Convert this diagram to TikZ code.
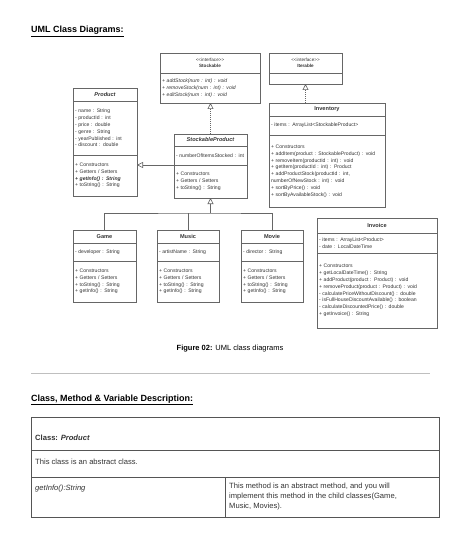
\documentclass[tikz,border=0pt]{standalone}
\usepackage{fontspec}
\setmainfont{Liberation Sans}
\usetikzlibrary{positioning,arrows.meta}
\definecolor{umlline}{HTML}{666666}
\definecolor{umltext}{HTML}{333333}
\definecolor{tableline}{HTML}{555555}

\begin{document}
\begin{tikzpicture}[x=1pt,y=-1pt,
  cls/.style={draw=umlline,line width=0.6pt,anchor=north west,inner sep=0pt,outer sep=0pt,text=umltext},
  head/.style={cls,align=center,font=\fontsize{5.6}{6.5}\selectfont\bfseries},
  iface/.style={cls,align=center,font=\fontsize{4.6}{6}\selectfont},
  part/.style={cls,align=left,inner xsep=2pt,font=\fontsize{5.1}{6.8}\selectfont},
  generalize/.style={umlline,line width=0.6pt,-{Triangle[open,length=6pt,width=6pt]}},
  realize/.style={generalize,dash pattern=on 1pt off 1pt},
  heading/.style={anchor=base west,inner sep=0pt,font=\fontsize{9}{11}\selectfont\bfseries},
  tcell/.style={draw=tableline,line width=0.8pt,anchor=north west,inner sep=0pt,outer sep=0pt},
  tabtext/.style={anchor=base west,inner sep=0pt,text=umltext,font=\fontsize{7.6}{10.2}\selectfont}]
  \useasboundingbox (0,0) rectangle (474,545);
  \node [heading] (umltitle) at (31,33) {\underline{UML Class Diagrams:}};

  \node [iface,text width=100pt,minimum height=20pt] (stockhead) at (160,53) {<{}<interface>{}>\\\textbf{Stockable}};
  \node [part,text width=96pt,minimum height=30pt,below=0pt of stockhead,font=\fontsize{5.1}{6.8}\selectfont\itshape] (stockmeth) {+ addStock(num : int) : void\\+ removeStock(num : int) : void\\+ editStock(num : int) : void};

  \node [iface,text width=73pt,minimum height=20pt] (iterhead) at (269,53) {<{}<interface>{}>\\\textbf{Iterable}};
  \node [part,text width=69pt,minimum height=11pt,below=0pt of iterhead] (iterbody) {};

  \node [head,text width=116pt,minimum height=13pt] (invhead) at (269,103) {Inventory};
  \node [part,text width=112pt,minimum height=19pt,below=0pt of invhead] (invattr) {- items : ArrayList<StockableProduct>};
  \node [part,text width=112pt,minimum height=72pt,below=0pt of invattr] (invmeth) {+ Constructors\\+ addItem(product : StockableProduct) : void\\+ removeItem(productId : int) : void\\+ getItem(productId : int) : Product\\+ addProductStock(productId : int,\\numberOfNewStock : int) : void\\+ sortByPrice() : void\\+ sortByAvailableStock() : void};

  \node [head,text width=64pt,minimum height=13pt,font=\fontsize{5.6}{6.5}\selectfont\bfseries\itshape] (prodhead) at (73,88) {Product};
  \node [part,text width=60pt,minimum height=54pt,below=0pt of prodhead] (prodattr) {- name : String\\- productId : int\\- price : double\\- genre : String\\- yearPublished : int\\- discount : double};
  \node [part,text width=60pt,minimum height=41pt,below=0pt of prodattr] (prodmeth) {+ Constructors\\+ Getters / Setters\\\textbf{\textit{+ getInfo() : String}}\\+ toString() : String};

  \node [head,text width=73pt,minimum height=12pt,font=\fontsize{5.6}{6.5}\selectfont\bfseries\itshape] (sphead) at (174,134) {StockableProduct};
  \node [part,text width=69pt,minimum height=19pt,below=0pt of sphead] (spattr) {- numberOfItemsStocked : int};
  \node [part,text width=69pt,minimum height=33pt,below=0pt of spattr] (spmeth) {+ Constructors\\+ Getters / Setters\\+ toString() : String};

  \node [head,text width=63pt,minimum height=13pt] (gamehead) at (73,230) {Game};
  \node [part,text width=59pt,minimum height=18pt,below=0pt of gamehead] (gameattr) {- developer : String};
  \node [part,text width=59pt,minimum height=41pt,below=0pt of gameattr] (gamemeth) {+ Constructors\\+ Getters / Setters\\+ toString() : String\\+ getInfo() : String};

  \node [head,text width=62pt,minimum height=13pt] (musichead) at (157,230) {Music};
  \node [part,text width=58pt,minimum height=18pt,below=0pt of musichead] (musicattr) {- artistName : String};
  \node [part,text width=58pt,minimum height=41pt,below=0pt of musicattr] (musicmeth) {+ Constructors\\+ Getters / Setters\\+ toString() : String\\+ getInfo() : String};

  \node [head,text width=62pt,minimum height=13pt] (moviehead) at (241,230) {Movie};
  \node [part,text width=58pt,minimum height=18pt,below=0pt of moviehead] (movieattr) {- director : String};
  \node [part,text width=58pt,minimum height=41pt,below=0pt of movieattr] (moviemeth) {+ Constructors\\+ Getters / Setters\\+ toString() : String\\+ getInfo() : String};

  \node [head,text width=120pt,minimum height=15pt] (invchead) at (317,218) {Invoice};
  \node [part,text width=116pt,minimum height=20pt,below=0pt of invchead] (invcattr) {- items : ArrayList<Product>\\- date : LocalDateTime};
  \node [part,text width=116pt,minimum height=75pt,below=0pt of invcattr] (invcmeth) {+ Constructors\\+ getLocalDateTime() : String\\+ addProduct(product : Product) : void\\+ removeProduct(product : Product) : void\\- calculatePriceWithoutDiscount() : double\\- isFullHouseDiscountAvailable() : boolean\\- calculateDiscountedPrice() : double\\+ getInvoice() : String};

  \draw [realize] (sphead.north) -- (sphead.north |- stockmeth.south);
  \draw [realize] (iterbody.south |- invhead.north) -- (iterbody.south);
  \draw [generalize] (spmeth.north west) -- (spmeth.north west -| prodmeth.east);
  \coordinate (fork) at (spmeth.south |- 0,213);
  \draw [umlline,line width=0.6pt] (gamehead.north) |- (fork) -| (moviehead.north);
  \draw [umlline,line width=0.6pt] (musichead.north) -- (musichead.north |- fork);
  \draw [generalize] (fork) -- (spmeth.south);

  \node [anchor=base,inner sep=0pt,font=\fontsize{7.5}{9}\selectfont] (caption) at (230,350) {\textbf{Figure 02:} UML class diagrams};
  \draw [black!25,line width=0.9pt] (31,373) -- (430,373);
  \node [heading] (desctitle) at (31,401) {\underline{Class, Method \& Variable Description:}};

  \node [tcell,minimum width=408pt,minimum height=33pt] (classrow) at (31,417) {};
  \node [tcell,minimum width=408pt,minimum height=27pt,below=0pt of classrow] (inforow) {};
  \node [tcell,minimum width=194pt,minimum height=40pt] (methcell) at (inforow.south west) {};
  \node [tcell,minimum width=214pt,minimum height=40pt,anchor=north east] (desccell) at (inforow.south east) {};
  \node [tabtext] (classname) at (35,440) {\textbf{Class: \textit{Product}}};
  \node [tabtext] (classinfo) at (35,464) {This class is an abstract class.};
  \node [tabtext] (methname) at (35,490) {\textit{getInfo():String}};
  \node [tabtext,align=left,anchor=north west] (methdesc) at (229,482.5) {This method is an abstract method, and you will\\implement this method in the child classes(Game,\\Music, Movies).};
\end{tikzpicture}
\end{document}
